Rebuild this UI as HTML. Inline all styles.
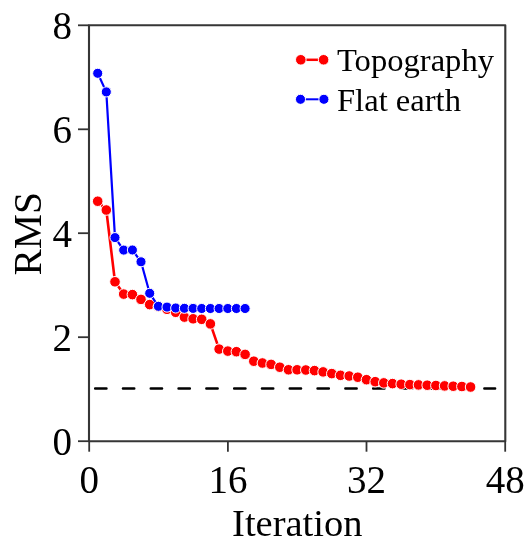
<!DOCTYPE html>
<html><head><meta charset="utf-8"><style>
html,body{margin:0;padding:0;background:#fff;}
svg{display:block;}
text{font-family:"Liberation Serif","Times New Roman",serif;fill:#000;}
</style></head><body>
<svg width="532" height="550" viewBox="0 0 532 550">
<rect width="532" height="550" fill="#fff"/>
<line x1="95.15" y1="388.4" x2="495.1" y2="388.4" stroke="#000" stroke-width="2.5" stroke-dasharray="11.3 16.5" stroke-linecap="round"/>
<polyline points="97.7,201.2 106.3,210.0 115.0,281.8 123.7,294.1 132.4,294.6 141.0,299.4 149.7,304.6 158.4,306.6 167.0,309.3 175.7,312.3 184.4,317.1 193.1,318.8 201.7,319.3 210.4,323.9 219.1,349.1 227.8,351.1 236.4,351.7 245.1,354.4 253.8,361.2 262.4,363.0 271.1,364.4 279.8,367.2 288.5,369.8 297.1,369.8 305.8,370.0 314.5,370.6 323.1,371.9 331.8,373.6 340.5,375.3 349.2,376.0 357.8,377.2 366.5,379.7 375.2,381.7 383.8,382.9 392.5,383.6 401.2,384.2 409.9,384.6 418.5,384.9 427.2,385.2 435.9,385.5 444.6,385.9 453.2,386.2 461.9,386.5 470.6,387.0" fill="none" stroke="#ff0000" stroke-width="2.6" stroke-linejoin="round"/>
<circle cx="97.7" cy="201.2" r="5.30" fill="#ff0000" stroke="#fff" stroke-width="1.0"/>
<circle cx="106.3" cy="210.0" r="5.30" fill="#ff0000" stroke="#fff" stroke-width="1.0"/>
<circle cx="115.0" cy="281.8" r="5.30" fill="#ff0000" stroke="#fff" stroke-width="1.0"/>
<circle cx="123.7" cy="294.1" r="5.30" fill="#ff0000" stroke="#fff" stroke-width="1.0"/>
<circle cx="132.4" cy="294.6" r="5.30" fill="#ff0000" stroke="#fff" stroke-width="1.0"/>
<circle cx="141.0" cy="299.4" r="5.30" fill="#ff0000" stroke="#fff" stroke-width="1.0"/>
<circle cx="149.7" cy="304.6" r="5.30" fill="#ff0000" stroke="#fff" stroke-width="1.0"/>
<circle cx="158.4" cy="306.6" r="5.30" fill="#ff0000" stroke="#fff" stroke-width="1.0"/>
<circle cx="167.0" cy="309.3" r="5.30" fill="#ff0000" stroke="#fff" stroke-width="1.0"/>
<circle cx="175.7" cy="312.3" r="5.30" fill="#ff0000" stroke="#fff" stroke-width="1.0"/>
<circle cx="184.4" cy="317.1" r="5.30" fill="#ff0000" stroke="#fff" stroke-width="1.0"/>
<circle cx="193.1" cy="318.8" r="5.30" fill="#ff0000" stroke="#fff" stroke-width="1.0"/>
<circle cx="201.7" cy="319.3" r="5.30" fill="#ff0000" stroke="#fff" stroke-width="1.0"/>
<circle cx="210.4" cy="323.9" r="5.30" fill="#ff0000" stroke="#fff" stroke-width="1.0"/>
<circle cx="219.1" cy="349.1" r="5.30" fill="#ff0000" stroke="#fff" stroke-width="1.0"/>
<circle cx="227.8" cy="351.1" r="5.30" fill="#ff0000" stroke="#fff" stroke-width="1.0"/>
<circle cx="236.4" cy="351.7" r="5.30" fill="#ff0000" stroke="#fff" stroke-width="1.0"/>
<circle cx="245.1" cy="354.4" r="5.30" fill="#ff0000" stroke="#fff" stroke-width="1.0"/>
<circle cx="253.8" cy="361.2" r="5.30" fill="#ff0000" stroke="#fff" stroke-width="1.0"/>
<circle cx="262.4" cy="363.0" r="5.30" fill="#ff0000" stroke="#fff" stroke-width="1.0"/>
<circle cx="271.1" cy="364.4" r="5.30" fill="#ff0000" stroke="#fff" stroke-width="1.0"/>
<circle cx="279.8" cy="367.2" r="5.30" fill="#ff0000" stroke="#fff" stroke-width="1.0"/>
<circle cx="288.5" cy="369.8" r="5.30" fill="#ff0000" stroke="#fff" stroke-width="1.0"/>
<circle cx="297.1" cy="369.8" r="5.30" fill="#ff0000" stroke="#fff" stroke-width="1.0"/>
<circle cx="305.8" cy="370.0" r="5.30" fill="#ff0000" stroke="#fff" stroke-width="1.0"/>
<circle cx="314.5" cy="370.6" r="5.30" fill="#ff0000" stroke="#fff" stroke-width="1.0"/>
<circle cx="323.1" cy="371.9" r="5.30" fill="#ff0000" stroke="#fff" stroke-width="1.0"/>
<circle cx="331.8" cy="373.6" r="5.30" fill="#ff0000" stroke="#fff" stroke-width="1.0"/>
<circle cx="340.5" cy="375.3" r="5.30" fill="#ff0000" stroke="#fff" stroke-width="1.0"/>
<circle cx="349.2" cy="376.0" r="5.30" fill="#ff0000" stroke="#fff" stroke-width="1.0"/>
<circle cx="357.8" cy="377.2" r="5.30" fill="#ff0000" stroke="#fff" stroke-width="1.0"/>
<circle cx="366.5" cy="379.7" r="5.30" fill="#ff0000" stroke="#fff" stroke-width="1.0"/>
<circle cx="375.2" cy="381.7" r="5.30" fill="#ff0000" stroke="#fff" stroke-width="1.0"/>
<circle cx="383.8" cy="382.9" r="5.30" fill="#ff0000" stroke="#fff" stroke-width="1.0"/>
<circle cx="392.5" cy="383.6" r="5.30" fill="#ff0000" stroke="#fff" stroke-width="1.0"/>
<circle cx="401.2" cy="384.2" r="5.30" fill="#ff0000" stroke="#fff" stroke-width="1.0"/>
<circle cx="409.9" cy="384.6" r="5.30" fill="#ff0000" stroke="#fff" stroke-width="1.0"/>
<circle cx="418.5" cy="384.9" r="5.30" fill="#ff0000" stroke="#fff" stroke-width="1.0"/>
<circle cx="427.2" cy="385.2" r="5.30" fill="#ff0000" stroke="#fff" stroke-width="1.0"/>
<circle cx="435.9" cy="385.5" r="5.30" fill="#ff0000" stroke="#fff" stroke-width="1.0"/>
<circle cx="444.6" cy="385.9" r="5.30" fill="#ff0000" stroke="#fff" stroke-width="1.0"/>
<circle cx="453.2" cy="386.2" r="5.30" fill="#ff0000" stroke="#fff" stroke-width="1.0"/>
<circle cx="461.9" cy="386.5" r="5.30" fill="#ff0000" stroke="#fff" stroke-width="1.0"/>
<circle cx="470.6" cy="387.0" r="5.30" fill="#ff0000" stroke="#fff" stroke-width="1.0"/>

<polyline points="97.7,73.3 106.3,91.9 115.0,237.6 123.7,250.1 132.4,250.0 141.0,261.8 149.7,293.3 158.4,306.3 167.0,307.1 175.7,308.0 184.4,308.3 193.1,308.4 201.7,308.5 210.4,308.5 219.1,308.5 227.8,308.5 236.4,308.5 245.1,308.5" fill="none" stroke="#0000ff" stroke-width="2.2" stroke-linejoin="round"/>
<circle cx="97.7" cy="73.3" r="5.05" fill="#0000ff" stroke="#fff" stroke-width="1.0"/>
<circle cx="106.3" cy="91.9" r="5.05" fill="#0000ff" stroke="#fff" stroke-width="1.0"/>
<circle cx="115.0" cy="237.6" r="5.05" fill="#0000ff" stroke="#fff" stroke-width="1.0"/>
<circle cx="123.7" cy="250.1" r="5.05" fill="#0000ff" stroke="#fff" stroke-width="1.0"/>
<circle cx="132.4" cy="250.0" r="5.05" fill="#0000ff" stroke="#fff" stroke-width="1.0"/>
<circle cx="141.0" cy="261.8" r="5.05" fill="#0000ff" stroke="#fff" stroke-width="1.0"/>
<circle cx="149.7" cy="293.3" r="5.05" fill="#0000ff" stroke="#fff" stroke-width="1.0"/>
<circle cx="158.4" cy="306.3" r="5.05" fill="#0000ff" stroke="#fff" stroke-width="1.0"/>
<circle cx="167.0" cy="307.1" r="5.05" fill="#0000ff" stroke="#fff" stroke-width="1.0"/>
<circle cx="175.7" cy="308.0" r="5.05" fill="#0000ff" stroke="#fff" stroke-width="1.0"/>
<circle cx="184.4" cy="308.3" r="5.05" fill="#0000ff" stroke="#fff" stroke-width="1.0"/>
<circle cx="193.1" cy="308.4" r="5.05" fill="#0000ff" stroke="#fff" stroke-width="1.0"/>
<circle cx="201.7" cy="308.5" r="5.05" fill="#0000ff" stroke="#fff" stroke-width="1.0"/>
<circle cx="210.4" cy="308.5" r="5.05" fill="#0000ff" stroke="#fff" stroke-width="1.0"/>
<circle cx="219.1" cy="308.5" r="5.05" fill="#0000ff" stroke="#fff" stroke-width="1.0"/>
<circle cx="227.8" cy="308.5" r="5.05" fill="#0000ff" stroke="#fff" stroke-width="1.0"/>
<circle cx="236.4" cy="308.5" r="5.05" fill="#0000ff" stroke="#fff" stroke-width="1.0"/>
<circle cx="245.1" cy="308.5" r="5.05" fill="#0000ff" stroke="#fff" stroke-width="1.0"/>

<rect x="89.0" y="25.3" width="416.3" height="415.9" fill="none" stroke="#363636" stroke-width="2.1" stroke-linejoin="round"/>
<g font-size="39">
<line x1="78" y1="441.2" x2="89.2" y2="441.2" stroke="#333" stroke-width="1.8"/>
<text x="72" y="454.5" text-anchor="end">0</text>
<line x1="78" y1="337.2" x2="89.2" y2="337.2" stroke="#333" stroke-width="1.8"/>
<text x="72" y="350.5" text-anchor="end">2</text>
<line x1="78" y1="233.2" x2="89.2" y2="233.2" stroke="#333" stroke-width="1.8"/>
<text x="72" y="246.6" text-anchor="end">4</text>
<line x1="78" y1="129.3" x2="89.2" y2="129.3" stroke="#333" stroke-width="1.8"/>
<text x="72" y="142.6" text-anchor="end">6</text>
<line x1="78" y1="25.3" x2="89.2" y2="25.3" stroke="#333" stroke-width="1.8"/>
<text x="72" y="38.6" text-anchor="end">8</text>
<line x1="89.2" y1="441.2" x2="89.2" y2="451.7" stroke="#333" stroke-width="1.8"/>
<text x="89.2" y="493" text-anchor="middle">0</text>
<line x1="227.9" y1="441.2" x2="227.9" y2="451.7" stroke="#333" stroke-width="1.8"/>
<text x="227.9" y="493" text-anchor="middle">16</text>
<line x1="366.5" y1="441.2" x2="366.5" y2="451.7" stroke="#333" stroke-width="1.8"/>
<text x="366.5" y="493" text-anchor="middle">32</text>
<line x1="505.2" y1="441.2" x2="505.2" y2="451.7" stroke="#333" stroke-width="1.8"/>
<text x="505.2" y="493" text-anchor="middle">48</text>

</g>
<text x="297.3" y="535.8" font-size="38.5" text-anchor="middle">Iteration</text>
<text transform="translate(41.0,233.8) rotate(-90)" font-size="39.5" text-anchor="middle">RMS</text>
<g font-size="32.6">
<line x1="300.8" y1="59.8" x2="323.6" y2="59.8" stroke="#ff0000" stroke-width="2.5"/>
<circle cx="300.8" cy="59.8" r="5.3" fill="#ff0000" stroke="#fff" stroke-width="1.0"/><circle cx="323.6" cy="59.8" r="5.3" fill="#ff0000" stroke="#fff" stroke-width="1.0"/>
<text x="337" y="70.7">Topography</text>
<line x1="300.5" y1="99.3" x2="323.9" y2="99.3" stroke="#0000ff" stroke-width="2"/>
<circle cx="300.5" cy="99.3" r="5.05" fill="#0000ff" stroke="#fff" stroke-width="1.0"/><circle cx="323.9" cy="99.3" r="5.05" fill="#0000ff" stroke="#fff" stroke-width="1.0"/>
<text x="337" y="110.7">Flat earth</text>
</g>
</svg>
</body></html>
